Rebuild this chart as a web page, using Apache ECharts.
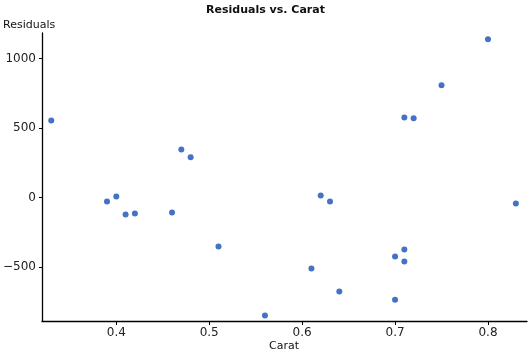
<!DOCTYPE html>
<html>
<head>
<meta charset="utf-8">
<script src="https://cdn.jsdelivr.net/npm/echarts@6/dist/echarts.min.js"></script>
<style>html,body{margin:0;padding:0;background:#fff}#c{width:531px;height:356px}</style>
</head>
<body>
<div id="c"></div>
<script>
const carat = [0.33, 0.39, 0.40, 0.41, 0.42, 0.46, 0.47, 0.48, 0.51, 0.56, 0.61, 0.62, 0.63, 0.64, 0.70, 0.70, 0.71, 0.71, 0.71, 0.72, 0.75, 0.80, 0.83];
const residuals = [555, -29, 7, -123, -115, -108, 346, 289, -354, -851, -512, 14, -29, -678, -736, -426, -375, -462, 577, 570, 808, 1140, -43];
const xTicks = [0.4, 0.5, 0.6, 0.7, 0.8];
const yTicks = [-500, 0, 500, 1000];
const titleText = 'Residuals vs. Carat';
const xName = 'Carat';
const yName = 'Residuals';

const points = carat.map((c, i) => [c, residuals[i]]);
const FONT = 'DejaVu Sans';
const chart = echarts.init(document.getElementById('c'), null, {renderer: 'canvas'});
chart.setOption({
  animation: false,
  backgroundColor: '#ffffff',
  title: {
    text: titleText, left: 'center', top: 0,
    textStyle: {fontFamily: FONT, fontSize: 11, fontWeight: 'bold', color: '#111'}
  },
  graphic: [
    {type: 'text', left: 3, top: 20, style: {text: yName, font: '11px "DejaVu Sans"', fill: '#111'}},
    {type: 'text', left: 269, top: 341, style: {text: xName, font: '11px "DejaVu Sans"', fill: '#111'}}
  ],
  grid: {left: 40, right: 4, top: 33, bottom: 35, containLabel: false},
  xAxis: {
    type: 'value', min: 0.32, max: 0.842,
    axisLine: {show: true, onZero: false, lineStyle: {color: '#000', width: 1.3}},
    axisTick: {show: true, length: 4, lineStyle: {color: '#000'},
      customValues: xTicks},
    axisLabel: {fontFamily: FONT, fontSize: 12, color: '#222', margin: 6,
      customValues: xTicks, formatter: v => v.toFixed(1)},
    splitLine: {show: false}
  },
  yAxis: {
    type: 'value', min: -890, max: 1185,
    axisLine: {show: true, onZero: false, lineStyle: {color: '#000', width: 1.3}},
    axisTick: {show: true, length: 3, lineStyle: {color: '#000'}, customValues: yTicks},
    axisLabel: {fontFamily: FONT, fontSize: 12, color: '#222', margin: 6,
      customValues: yTicks, formatter: v => String(v).replace('-', '\u2212')},
    splitLine: {show: false}
  },
  series: [{
    type: 'scatter', data: points, symbolSize: 6,
    itemStyle: {color: '#4472c4', opacity: 1}
  }]
});
</script>
</body>
</html>
